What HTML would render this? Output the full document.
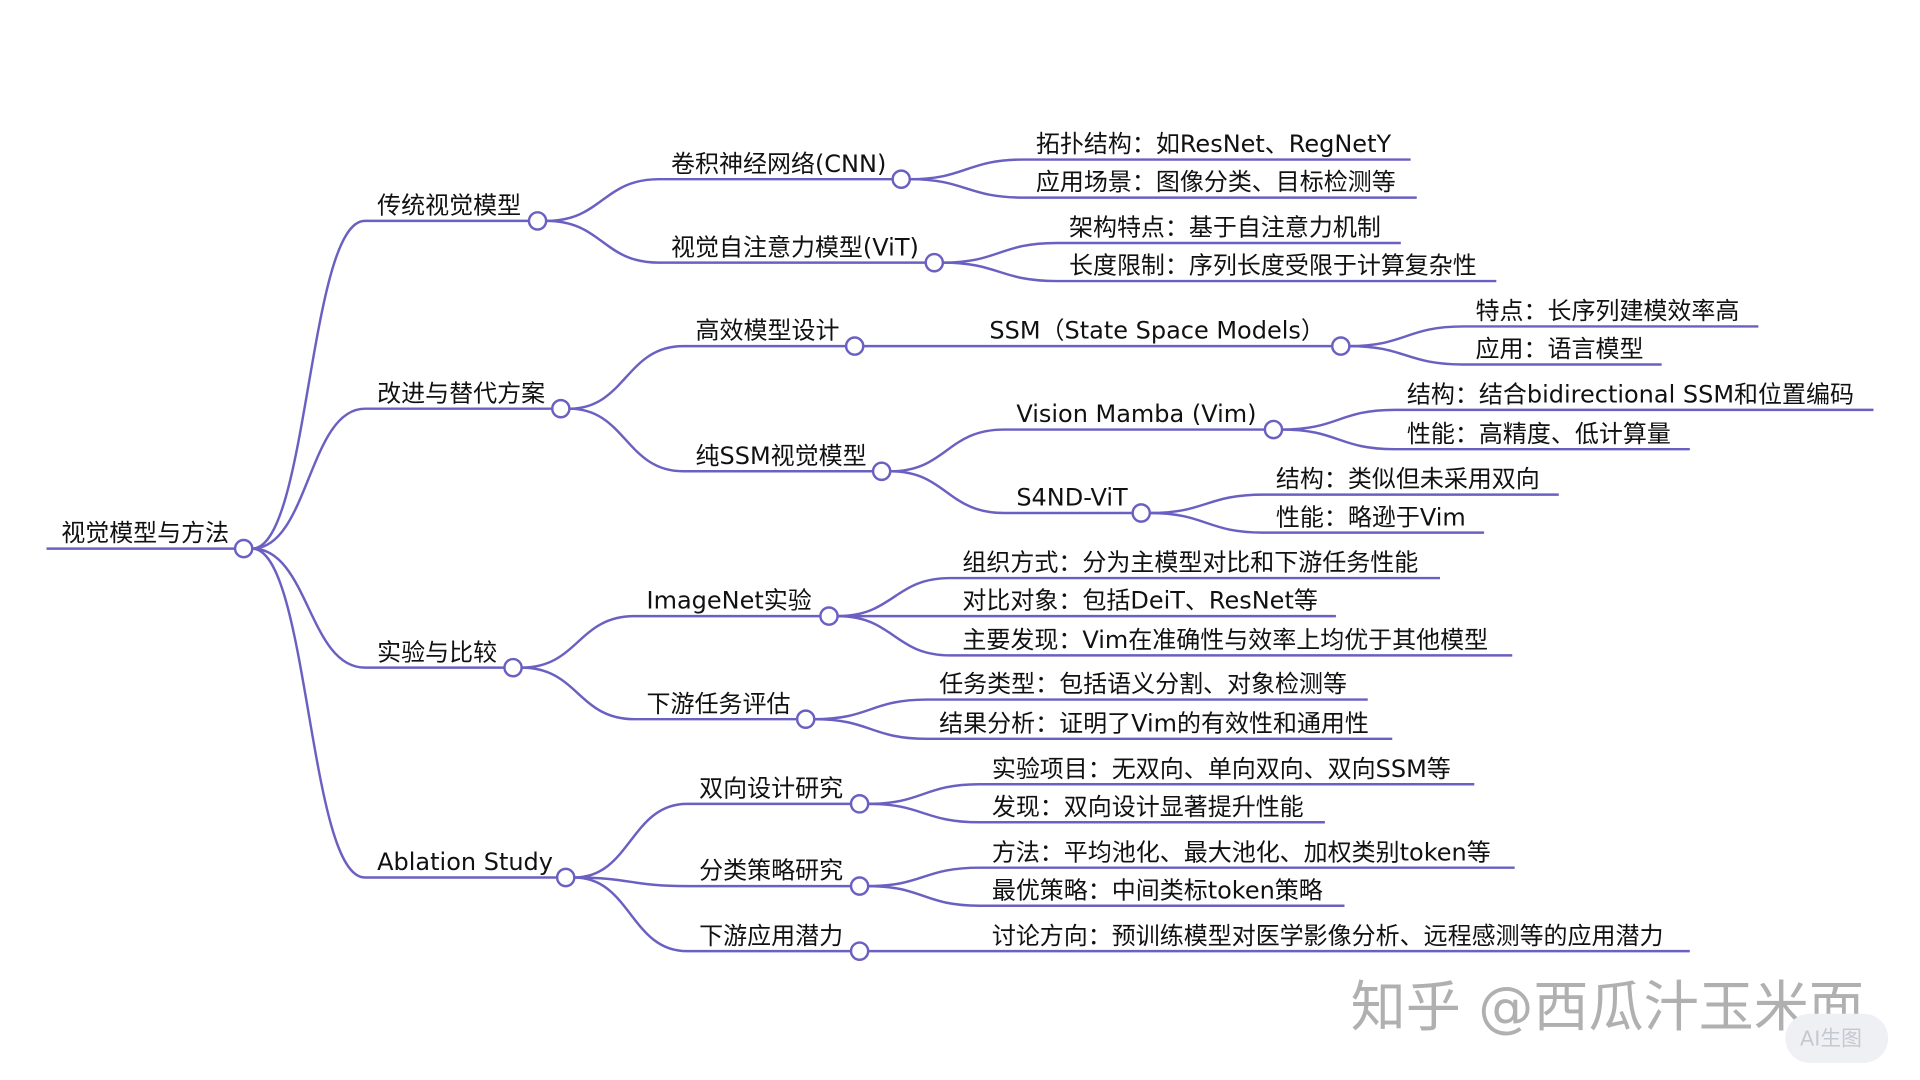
<!DOCTYPE html>
<html><head><meta charset="utf-8"><style>
html,body{margin:0;padding:0;background:#fff;width:1920px;height:1080px;overflow:hidden}
svg{display:block}
text{font-family:"DejaVu Sans","Noto Sans CJK SC",sans-serif;font-size:19.6px;fill:#111}
</style></head><body>
<svg width="1920" height="1080" viewBox="0 0 1568 880" preserveAspectRatio="none">
<g fill="none" stroke="#6a60c2" stroke-width="2">
<path d="M38 447H192"/>
<path d="M206 447C252 447 252 180 298 180H432"/>
<path d="M206 447C252 447 252 333 298 333H451"/>
<path d="M206 447C252 447 252 544 298 544H412"/>
<path d="M206 447C252 447 252 715 298 715H455"/>
<path d="M446 180C492 180 492 146 538 146H729"/>
<path d="M446 180C492 180 492 214 538 214H756"/>
<path d="M465 333C511 333 511 282 558 282H691"/>
<path d="M465 333C511 333 511 384 558 384H713"/>
<path d="M426 544C472 544 472 502 518 502H670"/>
<path d="M426 544C472 544 472 586 518 586H651"/>
<path d="M469 715C515 715 515 655 561 655H695"/>
<path d="M469 715C515 715 515 722 561 722H695"/>
<path d="M469 715C515 715 515 775 561 775H695"/>
<path d="M743 146C789 146 789 130 836 130H1152"/>
<path d="M743 146C789 146 789 161 836 161H1157"/>
<path d="M770 214C816 214 816 198 863 198H1144"/>
<path d="M770 214C816 214 816 229 863 229H1222"/>
<path d="M705 282H1088"/>
<path d="M1102 282C1148 282 1148 266 1195 266H1436"/>
<path d="M1102 282C1148 282 1148 297 1195 297H1357"/>
<path d="M727 384C773 384 773 350 820 350H1033"/>
<path d="M727 384C773 384 773 418 820 418H925"/>
<path d="M1047 350C1093 350 1093 334 1139 334H1530"/>
<path d="M1047 350C1093 350 1093 366 1139 366H1380"/>
<path d="M939 418C985 418 985 403 1032 403H1273"/>
<path d="M939 418C985 418 985 434 1032 434H1212"/>
<path d="M684 502C730 502 730 471 776 471H1176"/>
<path d="M684 502H1091"/>
<path d="M684 502C730 502 730 534 776 534H1235"/>
<path d="M665 586C711 586 711 570 757 570H1117"/>
<path d="M665 586C711 586 711 602 757 602H1137"/>
<path d="M709 655C754 655 754 639 800 639H1204"/>
<path d="M709 655C754 655 754 670 800 670H1082"/>
<path d="M709 722C754 722 754 707 800 707H1237"/>
<path d="M709 722C754 722 754 738 800 738H1098"/>
<path d="M709 775H1380"/>
</g>
<g fill="#fff" stroke="#6a60c2" stroke-width="2">
<circle cx="199" cy="447" r="7"/><circle cx="439" cy="180" r="7"/><circle cx="458" cy="333" r="7"/>
<circle cx="419" cy="544" r="7"/><circle cx="462" cy="715" r="7"/><circle cx="736" cy="146" r="7"/>
<circle cx="763" cy="214" r="7"/><circle cx="698" cy="282" r="7"/><circle cx="720" cy="384" r="7"/>
<circle cx="677" cy="502" r="7"/><circle cx="658" cy="586" r="7"/><circle cx="702" cy="655" r="7"/>
<circle cx="702" cy="722" r="7"/><circle cx="702" cy="775" r="7"/><circle cx="1095" cy="282" r="7"/>
<circle cx="1040" cy="350" r="7"/><circle cx="932" cy="418" r="7"/>
</g>
<text x="50" y="441">视觉模型与方法</text>
<text x="308" y="174">传统视觉模型</text>
<text x="308" y="327">改进与替代方案</text>
<text x="308" y="538">实验与比较</text>
<text x="308" y="709">Ablation Study</text>
<text x="548" y="140">卷积神经网络(CNN)</text>
<text x="548" y="208">视觉自注意力模型(ViT)</text>
<text x="568" y="276">高效模型设计</text>
<text x="568" y="378">纯SSM视觉模型</text>
<text x="528" y="496">ImageNet实验</text>
<text x="528" y="580">下游任务评估</text>
<text x="571" y="649">双向设计研究</text>
<text x="571" y="716">分类策略研究</text>
<text x="571" y="769">下游应用潜力</text>
<text x="808" y="276">SSM（State Space Models）</text>
<text x="830" y="344">Vision Mamba (Vim)</text>
<text x="830" y="412">S4ND-ViT</text>
<text x="846" y="124">拓扑结构：如ResNet、RegNetY</text>
<text x="846" y="155">应用场景：图像分类、目标检测等</text>
<text x="873" y="192">架构特点：基于自注意力机制</text>
<text x="873" y="223">长度限制：序列长度受限于计算复杂性</text>
<text x="1205" y="260">特点：长序列建模效率高</text>
<text x="1205" y="291">应用：语言模型</text>
<text x="1149" y="328">结构：结合bidirectional SSM和位置编码</text>
<text x="1149" y="360">性能：高精度、低计算量</text>
<text x="1042" y="397">结构：类似但未采用双向</text>
<text x="1042" y="428">性能：略逊于Vim</text>
<text x="786" y="465">组织方式：分为主模型对比和下游任务性能</text>
<text x="786" y="496">对比对象：包括DeiT、ResNet等</text>
<text x="786" y="528">主要发现：Vim在准确性与效率上均优于其他模型</text>
<text x="767" y="564">任务类型：包括语义分割、对象检测等</text>
<text x="767" y="596">结果分析：证明了Vim的有效性和通用性</text>
<text x="810" y="633">实验项目：无双向、单向双向、双向SSM等</text>
<text x="810" y="664">发现：双向设计显著提升性能</text>
<text x="810" y="701">方法：平均池化、最大池化、加权类别token等</text>
<text x="810" y="732">最优策略：中间类标token策略</text>
<text x="810" y="769">讨论方向：预训练模型对医学影像分析、远程感测等的应用潜力</text>
<text x="1103" y="836" style="font-size:45px;fill:#b0b0b0">知乎 @西瓜汁玉米面</text>
<rect x="1458" y="826" width="84" height="40" rx="20" fill="#eef0f4"/>
<text x="1470" y="852" style="font-size:17px;fill:#c4c8d0">AI生图</text>
</svg>
</body></html>
